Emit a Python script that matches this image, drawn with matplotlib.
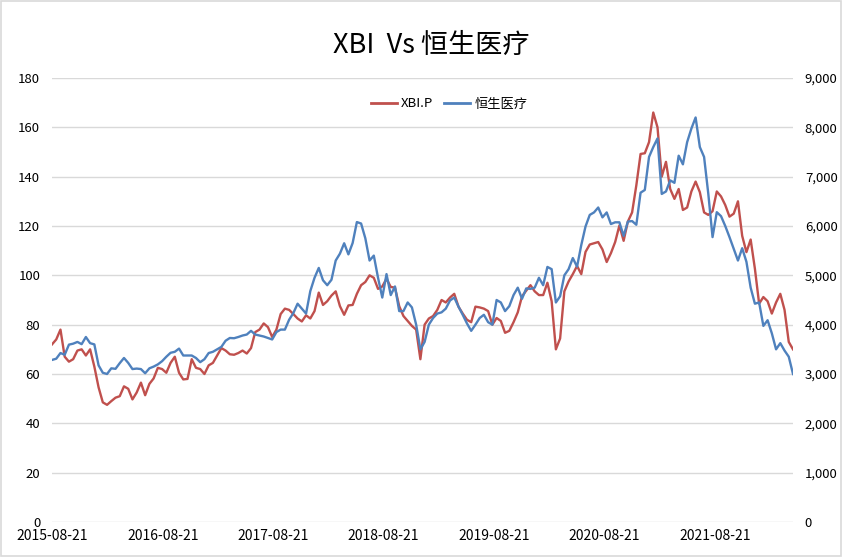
import matplotlib

matplotlib.use("Agg")
import matplotlib.pyplot as plt
import pandas as pd
from matplotlib.lines import Line2D
from matplotlib.patches import Rectangle
from matplotlib.ticker import FuncFormatter, MultipleLocator

plt.rcParams["font.family"] = ["Noto Sans CJK SC", "DejaVu Sans"]

START_DATE = "2015-08-21"
STEP = "14D"

# XBI.P, left axis
xbi = [
    72, 74, 78, 67, 65, 66, 69.5, 70, 67.5, 70, 63, 54.6, 48.5, 47.5, 49, 50.4, 51, 55, 54, 49.7,
    52.5, 56.5, 51.4, 56, 58.2, 62.5, 62, 60.5, 64.5, 67,
    60.5, 57.8, 58, 66, 62.5, 62, 60, 63.5, 64.5, 67.5, 70.5, 69.5, 68, 67.8, 68.5, 69.5, 68.3, 70.5, 77, 78,
    80.5, 79, 75, 78, 84.3, 86.5, 86, 84.3, 82.5,
    81.3, 83.8, 82.5, 85.5, 93, 88, 89.5, 91.8, 93.5, 87.5, 84, 87.8, 88, 92.5, 96, 97.3, 100, 99, 94.5, 95.5,
    98.6, 95.3, 95, 87.5, 83.5, 81.5, 79.5, 78, 66,
    80, 82.5, 83.5, 86, 90, 89, 91, 92.5, 87.3, 84.5, 82, 81, 87.3, 87, 86.5, 85.5, 80, 82.7, 81.5, 76.7,
    77.5, 81, 85, 91.5, 93.8, 96, 93.5, 92,
    92, 97, 89.5, 70, 74.4, 93.5, 97.5, 100.5, 103.8, 100.5, 109.5, 112.5, 113, 113.5, 110.5, 105.4, 109, 113.5,
    120.2, 114, 121.8, 125.5, 136.5, 149.2, 149.5, 154, 166, 160,
    140, 146, 135, 131, 135, 126.5, 127.5, 134, 138, 133.7, 125.5, 124.5, 126, 134, 132, 128.5, 123.8, 125, 130,
    116, 109.4, 114.5, 102.7, 88.5, 91.2, 89.5, 84.5, 89, 92.5, 86, 73, 70,
]

# 恒生医疗, right axis
hs_health = [
    3285, 3310, 3425, 3390, 3595, 3615, 3650, 3605, 3750, 3625, 3600, 3175, 3025, 3000, 3115, 3105, 3220, 3325,
    3225, 3100, 3110, 3100, 3015, 3115, 3150, 3195, 3260, 3350, 3430, 3450,
    3515, 3375, 3375, 3375, 3325, 3240, 3300, 3425, 3450, 3500, 3550, 3675, 3730, 3725, 3750, 3780, 3800, 3875,
    3800, 3780, 3760, 3730, 3700, 3850, 3900, 3900, 4100, 4235, 4425,
    4325, 4225, 4680, 4950, 5150, 4900, 4800, 4910, 5300, 5440, 5650, 5425, 5655, 6080, 6050, 5750, 5300, 5400,
    4950, 4550, 5025, 4600, 4775, 4275, 4275, 4450, 4350, 4000, 3500,
    3650, 4000, 4135, 4225, 4250, 4325, 4490, 4550, 4365, 4200, 4025, 3875, 4000, 4135, 4200, 4050, 4000, 4500,
    4450, 4275, 4375, 4600, 4750, 4525, 4735, 4725, 4750, 4950,
    4800, 5170, 5125, 4450, 4575, 5000, 5125, 5350, 5175, 5615, 5990, 6225, 6275, 6375, 6175, 6275, 6040, 6075,
    6075, 5800, 6090, 6100, 6025, 6675, 6730, 7400, 7600, 7775,
    6650, 6700, 6925, 6875, 7425, 7250, 7700, 7975, 8200, 7600, 7400, 6650, 5775, 6280, 6200, 6000, 5775, 5540,
    5300, 5550, 5275, 4750, 4425, 4450, 3975, 4090, 3825, 3500, 3625, 3475, 3350, 3000,
]

tick_labels = ["2015-08-21", "2016-08-21", "2017-08-21", "2018-08-21",
               "2019-08-21", "2020-08-21", "2021-08-21"]

dates = pd.date_range(START_DATE, periods=len(xbi), freq=STEP)

RED = "#C0504D"
BLUE = "#4F81BD"
GRID = "#D9D9D9"

fig = plt.figure(figsize=(8.42, 5.57), dpi=100)
ax = fig.add_axes([52 / 842, 35 / 557, 741 / 842, 444 / 557])
ax2 = ax.twinx()

ax.plot(dates, xbi, color=RED, lw=1.7, solid_joinstyle="round")
ax2.plot(dates, hs_health, color=BLUE, lw=1.7, solid_joinstyle="round")

ax.set_xlim(dates[0], dates[-1])
ax.set_ylim(0, 180)
ax2.set_ylim(0, 9000)
ax.yaxis.set_major_locator(MultipleLocator(20))
ax2.yaxis.set_major_locator(MultipleLocator(1000))
ax2.yaxis.set_major_formatter(FuncFormatter(lambda v, _: f"{v:,.0f}"))

ax.set_xticks(pd.to_datetime(tick_labels))
ax.set_xticklabels(tick_labels)

ax.grid(axis="y", color=GRID, lw=1.0)
ax.set_axisbelow(True)
for a in (ax, ax2):
    for s in a.spines.values():
        s.set_visible(False)
    a.tick_params(length=0, labelsize=9.5, colors="black")
ax.tick_params(axis="y", pad=8.5)
ax2.tick_params(axis="y", pad=8.5)
ax.tick_params(axis="x", pad=5, labelsize=10)

fig.text(431 / 842, 1 - 45 / 557, "XBI  Vs 恒生医疗", ha="center", va="center", fontsize=19.5)

handles = [Line2D([], [], color=RED, lw=2), Line2D([], [], color=BLUE, lw=2)]
fig.legend(handles, ["XBI.P", "恒生医疗"], loc="center", bbox_to_anchor=(449 / 842, 1 - 104 / 557),
           ncol=2, frameon=False, fontsize=9.5, handlelength=2.0, handletextpad=0.3,
           columnspacing=0.8)

fig.add_artist(Rectangle((0.001, 0.001), 0.998, 0.997, transform=fig.transFigure,
                         fill=False, edgecolor=GRID, lw=1.2))

fig.savefig("out.png", dpi=100)
